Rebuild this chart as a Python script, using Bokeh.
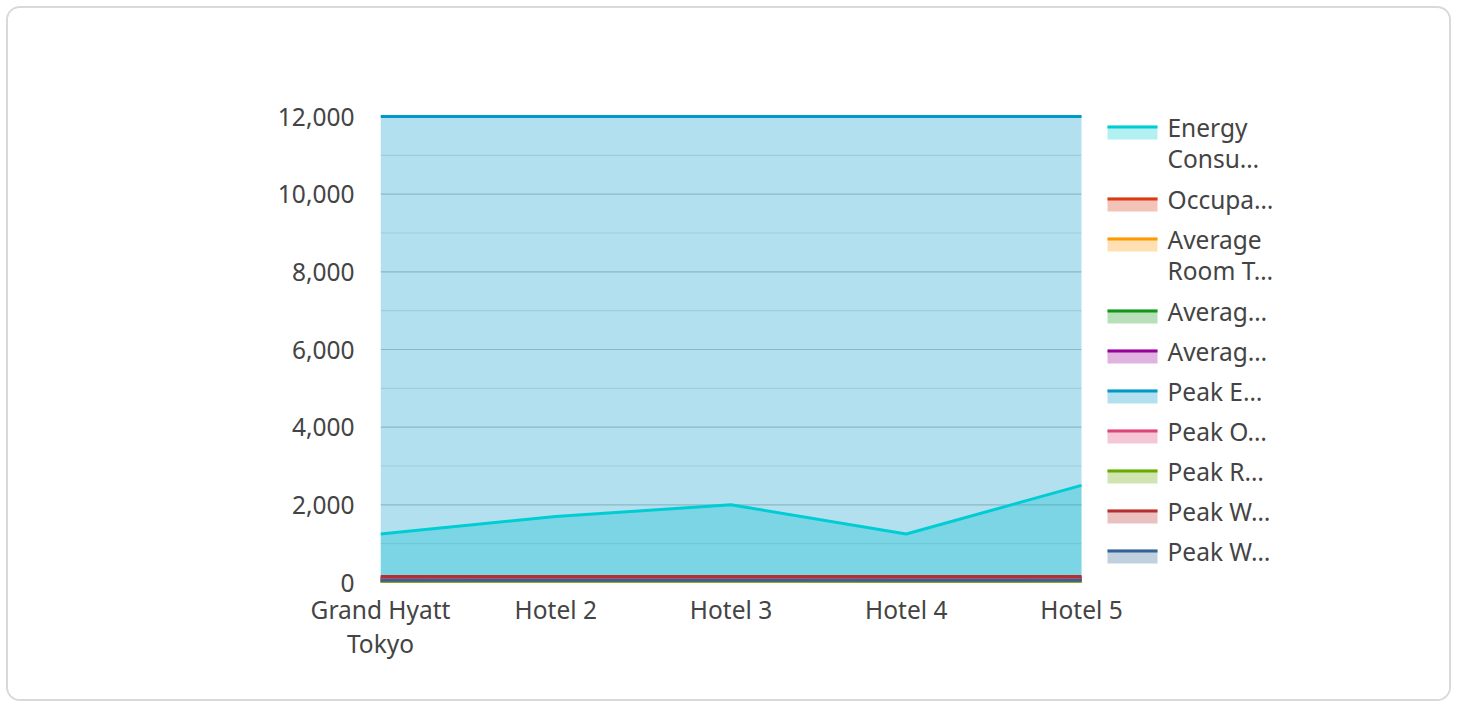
from bokeh.plotting import figure
from bokeh.models import Range1d, FixedTicker, NumeralTickFormatter, ColumnDataSource
from bokeh.core.properties import value
from bokeh.embed import file_html
from bokeh.resources import INLINE

# ---------------- data ----------------
hotels = ["Grand Hyatt\nTokyo", "Hotel 2", "Hotel 3", "Hotel 4", "Hotel 5"]

series_names = [
    "Energy Consumption", "Occupancy Rate", "Average Room Temperature",
    "Average Water Usage", "Average Waste", "Peak Energy", "Peak Occupancy",
    "Peak Room Temperature", "Peak Water Usage", "Peak Waste",
]
legend_labels = [
    "Energy\nConsu…", "Occupa…", "Average\nRoom T…", "Averag…", "Averag…",
    "Peak E…", "Peak O…", "Peak R…", "Peak W…", "Peak W…",
]
energy_consumption = [1250, 1700, 2000, 1250, 2500]
occupancy_rate = [78, 82, 85, 74, 88]
avg_room_temp = [22, 22, 23, 21, 22]
avg_water_usage = [120, 125, 130, 120, 125]
avg_waste = [45, 50, 55, 45, 50]
peak_energy = [12000, 12000, 12000, 12000, 12000]
peak_occupancy = [95, 95, 95, 95, 95]
peak_room_temp = [25, 25, 25, 25, 25]
peak_water_usage = [155, 155, 155, 155, 155]
peak_waste = [60, 60, 60, 60, 60]

series_values = [
    energy_consumption, occupancy_rate, avg_room_temp, avg_water_usage, avg_waste,
    peak_energy, peak_occupancy, peak_room_temp, peak_water_usage, peak_waste,
]
colors = ["#00CDD3", "#DC3912", "#FF9900", "#109618", "#990099",
          "#0099C6", "#DD4477", "#66AA00", "#B82E2E", "#316395"]

y_major = [0, 2000, 4000, 6000, 8000, 10000, 12000]
y_minor = [1000, 3000, 5000, 7000, 9000, 11000]

FONT = "Noto Sans"
TXT = "#444444"
FS = "24.5px"

# ---------------- layout (page pixels) ----------------
W, H = 1445, 695
CARD_X, CARD_Y = 8, 8            # page position of the figure canvas top-left
F_LEFT, F_RIGHT = 380, 1445      # frame extent on page
F_TOP, F_BOTTOM = 100, 582
AX_LEFT, AX_RIGHT = 380, 1081    # data area (first/last hotel)
AX_TOP = 116                     # pixel of y = 12000

n = len(hotels)
x_end = (n - 1) * (F_RIGHT - F_LEFT) / (AX_RIGHT - AX_LEFT)
y_end = y_major[-1] * (F_BOTTOM - F_TOP) / (F_BOTTOM - AX_TOP)

p = figure(width=W, height=H, x_range=Range1d(0, x_end), y_range=Range1d(0, y_end),
           toolbar_location=None, output_backend="svg",
           min_border_left=F_LEFT - CARD_X, min_border_right=W - (F_RIGHT - CARD_X),
           min_border_top=F_TOP - CARD_Y, min_border_bottom=H - (F_BOTTOM - CARD_Y),
           styles={"border": "2px solid #d9d9d9", "border-radius": "14px",
                   "overflow": "hidden", "margin": "6px 0 0 6px"})
p.outline_line_color = None
p.background_fill_color = "white"
p.border_fill_color = "white"
p.grid.visible = False

# grid lines restricted to data area (under the areas)
xs = list(range(n))
p.segment(x0=0, x1=n - 1, y0=y_minor, y1=y_minor, line_color="#e4e4e4", line_width=1.2)
p.segment(x0=0, x1=n - 1, y0=y_major, y1=y_major, line_color="#c6c6c6", line_width=1.2)

for vals, c in zip(series_values, colors):
    src = ColumnDataSource(dict(x=xs, y=vals, y0=[0] * len(vals)))
    p.varea(x="x", y1="y0", y2="y", source=src, fill_color=c, fill_alpha=0.3)
for vals, c in zip(series_values, colors):
    src = ColumnDataSource(dict(x=xs, y=vals))
    p.line(x="x", y="y", source=src, line_color=c, line_width=3)

p.yaxis.ticker = FixedTicker(ticks=y_major, minor_ticks=[])
p.yaxis.formatter = NumeralTickFormatter(format="0,0")
p.xaxis.ticker = FixedTicker(ticks=xs, minor_ticks=[])
p.xaxis.major_label_overrides = {i: h for i, h in enumerate(hotels)}

for ax in (p.xaxis, p.yaxis):
    ax.axis_line_color = None
    ax.major_tick_line_color = None
    ax.minor_tick_line_color = None
    ax.major_label_text_font = FONT
    ax.major_label_text_font_size = FS
    ax.major_label_text_color = TXT
p.yaxis.major_label_standoff = 20
p.xaxis.major_label_standoff = 4
p.xaxis.major_label_text_line_height = 1.05

# ---------------- legend (page-pixel coordinates via extra ranges) ----------------
p.extra_x_ranges["lg"] = Range1d(F_LEFT, F_RIGHT)
p.extra_y_ranges["lg"] = Range1d(F_BOTTOM, F_TOP)

tops = []
y = 125
for lab in legend_labels:
    tops.append(y)
    y += 40 + 32 * lab.count("\n")

lsrc = ColumnDataSource(dict(
    left=[1107] * len(tops), right=[1157] * len(tops),
    top=tops, bottom=[t + 14 for t in tops], line_y=[t + 1.5 for t in tops],
    ty=[t - 15 for t in tops], label=legend_labels, color=colors,
))
kw = dict(x_range_name="lg", y_range_name="lg", source=lsrc)
p.quad(left="left", right="right", top="top", bottom="bottom",
       fill_color="color", fill_alpha=0.3, line_color=None, **kw)
p.segment(x0="left", x1="right", y0="line_y", y1="line_y",
          line_color="color", line_width=3, **kw)
p.text(x=1167, y="ty", text="label", text_font=value(FONT),
       text_font_size=FS, text_color=TXT, text_baseline="top",
       text_line_height=0.96, **kw)

open("out.html", "w").write(file_html(p, INLINE))
